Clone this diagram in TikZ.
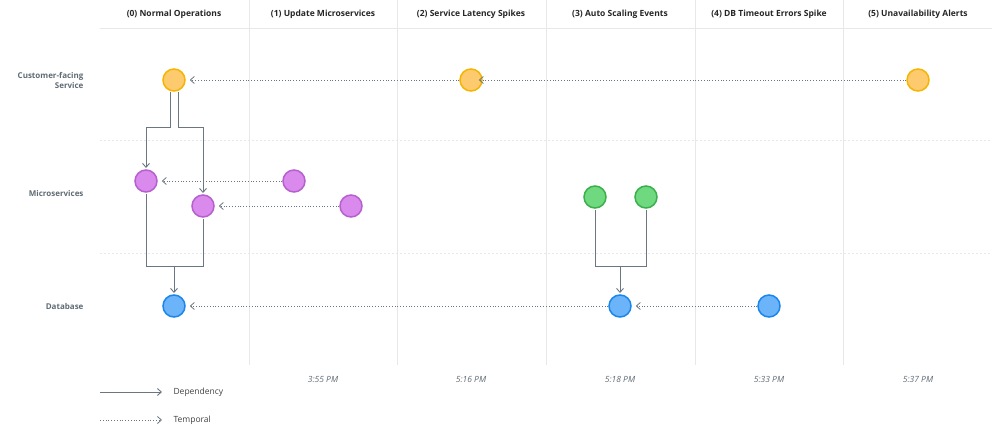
\documentclass[tikz,border=0pt]{standalone}
\usepackage{fontspec}
\setmainfont{Open Sans}
\usetikzlibrary{arrows.meta}
\definecolor{gridc}{HTML}{E6E8EA}
\definecolor{linec}{HTML}{6B7780}
\definecolor{labc}{HTML}{5F6B73}
\definecolor{yf}{HTML}{FDCB6E}\definecolor{yd}{HTML}{F4B400}
\definecolor{pf}{HTML}{DA8AEC}\definecolor{pd}{HTML}{B660D0}
\definecolor{gf}{HTML}{6FD97F}\definecolor{gd}{HTML}{3BAF4C}
\definecolor{bf}{HTML}{6CB4FA}\definecolor{bd}{HTML}{1A86EC}
\tikzset{
 x=1pt,y=-1pt,
 dot/.style={circle,minimum size=22pt,inner sep=0pt,line width=1.5pt},
 yel/.style={dot,fill=yf,draw=yd},
 pur/.style={dot,fill=pf,draw=pd},
 grn/.style={dot,fill=gf,draw=gd},
 blu/.style={dot,fill=bf,draw=bd},
 dep/.style={draw=linec,line width=0.9pt,-{Straight Barb[length=4pt,width=7pt]}},
 depn/.style={draw=linec,line width=0.9pt},
 temp/.style={draw=linec,line width=0.8pt,dotted,-{Straight Barb[length=4pt,width=7pt]}},
 head/.style={font=\fontsize{8.5}{10}\selectfont\bfseries,text=black!85},
 rowl/.style={font=\fontsize{8}{10}\selectfont\bfseries,text=labc,align=right,anchor=east},
 timel/.style={font=\fontsize{8.5}{10}\selectfont\itshape,text=labc},
 legl/.style={font=\fontsize{8.5}{10}\selectfont,text=black!75,anchor=west},
}
\begin{document}
\begin{tikzpicture}
\useasboundingbox (0,0) rectangle (992,427);
% grid
\foreach \x in {249,397,546,695,843} \draw[gridc,line width=0.8pt] (\x,0) -- (\x,365);
\draw[gridc,line width=0.8pt] (100,28) -- (992,28);
\foreach \y in {140,253} \draw[gridc,line width=0.8pt,dashed,dash pattern=on 2pt off 2pt] (100,\y) -- (992,\y);
% headers
\node[head] (h0) at (174,14) {(0) Normal Operations};
\node[head] (h1) at (323,14) {(1) Update Microservices};
\node[head] (h2) at (471,14) {(2) Service Latency Spikes};
\node[head] (h3) at (620,14) {(3) Auto Scaling Events};
\node[head] (h4) at (769,14) {(4) DB Timeout Errors Spike};
\node[head] (h5) at (918,14) {(5) Unavailability Alerts};
% row labels
\node[rowl] (r1) at (87,80) {Customer-facing\\Service};
\node[rowl] (r2) at (87,194) {Microservices};
\node[rowl] (r3) at (87,306) {Database};
% times
\node[timel] (t1) at (323,379) {3:55 PM};
\node[timel] (t2) at (471,379) {5:16 PM};
\node[timel] (t3) at (620,379) {5:18 PM};
\node[timel] (t4) at (769,379) {5:33 PM};
\node[timel] (t5) at (918,379) {5:37 PM};
% dependency edges
\coordinate (ya) at (170,80); \coordinate (yb) at (178,80);
\coordinate (j0) at (174,266); \coordinate (j1) at (620,266);
\draw[dep] (170,92) |- (146,127) -- (146,168);
\draw[dep] (178,92) |- (203,127) -- (203,193);
\draw[depn] (146,194) |- (j0);
\draw[depn] (203,219) |- (j0);
\draw[depn] (595,210) |- (j1);
\draw[depn] (646,210) |- (j1);
\draw[dep] (j0) -- (174,293);
\draw[dep] (j1) -- (620,293);
% nodes
\node[yel] (c0) at (174,80) {};
\node[yel] (c2) at (471,80) {};
\node[yel] (c5) at (918,80) {};
\node[pur] (m0a) at (146,181) {};
\node[pur] (m0b) at (203,206) {};
\node[pur] (m1a) at (294,181) {};
\node[pur] (m1b) at (351,206) {};
\node[grn] (g3a) at (595,197) {};
\node[grn] (g3b) at (646,197) {};
\node[blu] (d0) at (174,306) {};
\node[blu] (d3) at (620,306) {};
\node[blu] (d4) at (769,306) {};
% temporal
\draw[temp] (c5) -- ([xshift=-4pt]c2.east);
\draw[temp] (c2) -- ([xshift=4pt]c0.east);
\draw[temp] (m1a) -- ([xshift=4pt]m0a.east);
\draw[temp] (m1b) -- ([xshift=4pt]m0b.east);
\draw[temp] (d4) -- ([xshift=4pt]d3.east);
\draw[temp] (d3) -- ([xshift=4pt]d0.east);
% legend
\coordinate (la) at (100,392); \coordinate (lb) at (162,392);
\coordinate (lc) at (100,420); \coordinate (ld) at (162,420);
\draw[dep] (la) -- (lb);
\draw[temp] (lc) -- (ld);
\node[legl] (l1) at (170,392) {Dependency};
\node[legl] (l2) at (170,420) {Temporal};
\end{tikzpicture}
\end{document}
